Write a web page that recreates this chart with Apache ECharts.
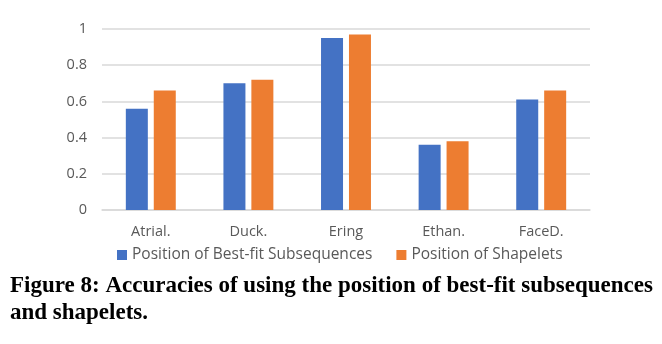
<!DOCTYPE html>
<html><head><meta charset="utf-8">
<script src="https://cdn.jsdelivr.net/npm/echarts@6/dist/echarts.min.js"></script>
<style>html,body{margin:0;padding:0;background:#fff}#c{width:662px;height:344px}</style>
</head><body><div id="c"></div>
<script>
const categories = ['Atrial.', 'Duck.', 'Ering', 'Ethan.', 'FaceD.'];
const bestFit = [0.56, 0.70, 0.95, 0.36, 0.61];
const shapelets = [0.66, 0.72, 0.97, 0.38, 0.66];
const seriesNames = ['Position of Best-fit Subsequences', 'Position of Shapelets'];
const captionLines = ['Figure 8: Accuracies of using the position of best-fit subsequences', 'and shapelets.'];

const chart = echarts.init(document.getElementById('c'), null, {renderer: 'canvas'});
const font = '"Open Sans", "Noto Sans", sans-serif';
chart.setOption({
  animation: false,
  color: ['#4472c4', '#ed7d31'],
  grid: {left: 102, right: 72, top: 29, bottom: 134},
  legend: {
    data: seriesNames, top: 242, left: 112, itemWidth: 10, itemHeight: 10, itemGap: 24,
    icon: 'rect',
    textStyle: {fontFamily: font, fontSize: 15.5, color: '#595959'}
  },
  xAxis: {
    type: 'category', data: categories,
    axisLine: {lineStyle: {color: '#d9d9d9', width: 1.5}},
    axisTick: {show: false},
    axisLabel: {fontFamily: font, fontSize: 14.5, color: '#595959', margin: 14}
  },
  yAxis: {
    type: 'value', min: 0, max: 1, interval: 0.2,
    axisLine: {show: false}, axisTick: {show: false},
    splitLine: {lineStyle: {color: '#d9d9d9', width: 1.5}},
    axisLabel: {fontFamily: font, fontSize: 14.5, color: '#595959', margin: 15,
      formatter: v => (Math.round(v * 10) / 10).toString()}
  },
  series: [
    {name: seriesNames[0], type: 'bar', data: bestFit, barWidth: 22, barGap: '27%'},
    {name: seriesNames[1], type: 'bar', data: shapelets, barWidth: 22, barGap: '27%'}
  ],
  graphic: [
    {type: 'text', left: 10, top: 275, style: {text: captionLines[0], font: 'bold 23px "Liberation Serif", serif', fill: '#000'}},
    {type: 'text', left: 10, top: 302, style: {text: captionLines[1], font: 'bold 23px "Liberation Serif", serif', fill: '#000'}}
  ]
});
</script></body></html>
